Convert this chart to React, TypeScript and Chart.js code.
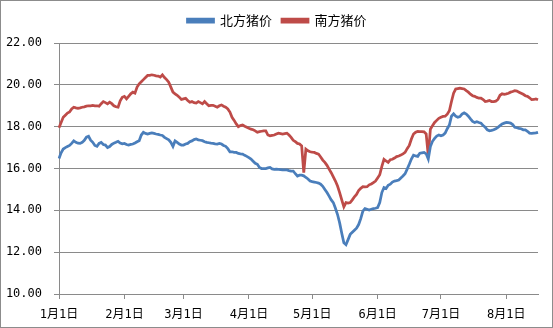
import React, { useEffect, useRef } from "react";
import { Chart, registerables } from "chart.js";

Chart.register(...registerables);

// Days shown per month (Jan 1 .. Aug 16)
const MONTH_NAMES = ["1月", "2月", "3月", "4月", "5月", "6月", "7月", "8月"];
const MONTH_DAYS = [31, 28, 31, 30, 31, 30, 31, 16];
const MONTH_TICKS = ["1月1日", "2月1日", "3月1日", "4月1日", "5月1日", "6月1日", "7月1日", "8月1日"];
const Y_TICKS = [10, 12, 14, 16, 18, 20, 22];

const SERIES_NAMES = ["北方猪价", "南方猪价"];

const NORTH = [
  16.48, 16.75, 16.93, 17.0, 17.05, 17.1, 17.2, 17.32, 17.25, 17.21,
  17.2, 17.25, 17.35, 17.5, 17.54, 17.35, 17.25, 17.1, 17.06, 17.2,
  17.25, 17.15, 17.12, 17.0, 17.05, 17.15, 17.21, 17.25, 17.3, 17.22,
  17.18, 17.2, 17.15, 17.12, 17.15, 17.17, 17.22, 17.28, 17.33, 17.6,
  17.73, 17.68, 17.65, 17.68, 17.7, 17.68, 17.65, 17.63, 17.6, 17.58,
  17.49, 17.43, 17.37, 17.25, 17.06, 17.32, 17.25, 17.17, 17.12, 17.12,
  17.17, 17.2, 17.28, 17.32, 17.38, 17.41, 17.37, 17.35, 17.33, 17.28,
  17.25, 17.23, 17.21, 17.2, 17.18, 17.17, 17.2, 17.17, 17.1, 17.06,
  16.95, 16.8, 16.8, 16.77, 16.77, 16.72, 16.7, 16.69, 16.63, 16.58,
  16.52, 16.45, 16.35, 16.25, 16.2, 16.05, 16.0, 16.0, 16.0, 16.03,
  16.05, 15.98, 15.96, 15.97, 15.96, 15.95, 15.93, 15.93, 15.93, 15.9,
  15.88, 15.88, 15.75, 15.64, 15.68, 15.68, 15.65, 15.57, 15.5, 15.4,
  15.37, 15.35, 15.33, 15.3, 15.25, 15.15, 15.0, 14.85, 14.68, 14.5,
  14.37, 14.1, 13.8, 13.4, 12.9, 12.45, 12.36, 12.6, 12.85, 12.95,
  13.05, 13.15, 13.32, 13.6, 13.96, 14.08, 14.05, 14.01, 14.05, 14.08,
  14.1, 14.13, 14.37, 14.85, 15.09, 15.04, 15.2, 15.25, 15.35, 15.4,
  15.42, 15.45, 15.55, 15.64, 15.75, 15.97, 16.2, 16.45, 16.64, 16.6,
  16.58, 16.73, 16.75, 16.77, 16.7, 16.45, 17.05, 17.3, 17.44, 17.55,
  17.6, 17.56, 17.6, 17.69, 17.9, 18.08, 18.5, 18.61, 18.5, 18.45,
  18.48, 18.6, 18.66, 18.6, 18.5, 18.37, 18.25, 18.2, 18.24, 18.2,
  18.17, 18.05, 17.97, 17.85, 17.8, 17.82, 17.85, 17.9, 17.97, 18.05,
  18.13, 18.17, 18.2, 18.19, 18.17, 18.1, 17.97, 17.95, 17.92, 17.9,
  17.85, 17.85, 17.78, 17.69, 17.68, 17.69, 17.7, 17.73,
];

const SOUTH = [
  17.95, 18.2, 18.45, 18.55, 18.65, 18.7, 18.85, 18.93, 18.9, 18.88,
  18.9, 18.93, 18.95, 18.98, 19.0, 19.0, 19.02, 19.0, 19.0, 18.98,
  19.1, 19.2, 19.15, 19.09, 19.17, 19.1, 19.0, 18.95, 18.93, 19.24,
  19.4, 19.45, 19.33, 19.45, 19.57, 19.65, 19.6, 19.89, 20.05, 20.15,
  20.25, 20.35, 20.45, 20.45, 20.48, 20.46, 20.43, 20.42, 20.37, 20.48,
  20.35, 20.25, 20.13, 19.89, 19.65, 19.57, 19.5, 19.41, 19.3, 19.33,
  19.36, 19.25, 19.17, 19.2, 19.15, 19.13, 19.2, 19.15, 19.09, 19.2,
  19.1, 19.0, 19.02, 19.02, 18.98, 18.93, 19.0, 19.04, 18.98, 18.93,
  18.85, 18.7, 18.45, 18.3, 18.13, 18.0, 18.05, 18.08, 18.02, 17.97,
  17.92, 17.88, 17.85, 17.8, 17.73, 17.76, 17.78, 17.8, 17.8, 17.6,
  17.56, 17.58, 17.6, 17.65, 17.69, 17.67, 17.65, 17.67, 17.69, 17.6,
  17.49, 17.35, 17.28, 17.2, 17.17, 17.08, 15.8, 16.93, 16.85, 16.8,
  16.78, 16.77, 16.72, 16.69, 16.55, 16.4, 16.29, 16.15, 15.97, 15.8,
  15.6, 15.4, 15.16, 14.85, 14.5, 14.17, 14.37, 14.35, 14.37, 14.5,
  14.65, 14.76, 14.95, 15.05, 15.13, 15.12, 15.13, 15.22, 15.26, 15.33,
  15.4, 15.55, 15.7, 16.1, 16.44, 16.36, 16.29, 16.42, 16.44, 16.5,
  16.57, 16.6, 16.64, 16.7, 16.77, 16.95, 17.1, 17.41, 17.65, 17.73,
  17.77, 17.76, 17.76, 17.75, 17.65, 16.6, 17.88, 18.05, 18.2, 18.3,
  18.4, 18.45, 18.49, 18.5, 18.6, 18.76, 19.2, 19.6, 19.8, 19.82,
  19.84, 19.82, 19.8, 19.72, 19.65, 19.55, 19.48, 19.45, 19.4, 19.36,
  19.36, 19.3, 19.2, 19.22, 19.25, 19.2, 19.2, 19.22, 19.3, 19.5,
  19.57, 19.55, 19.57, 19.6, 19.65, 19.68, 19.72, 19.7, 19.65, 19.6,
  19.55, 19.48, 19.45, 19.38, 19.29, 19.3, 19.33, 19.29,
];

const LABELS: string[] = [];
MONTH_NAMES.forEach((m, i) => {
  for (let d = 1; d <= MONTH_DAYS[i]; d++) LABELS.push(`${m}${d}日`);
});

const BLUE = "#4a7ebb";
const RED = "#be4b48";
const GRID = "#8a8a8a";
const TICK_FONT = { family: "'DejaVu Sans Mono', 'Noto Sans CJK SC', monospace", size: 12 };

// Nudges the legend so it is centred like the original (Excel) legend.
const legendShift = {
  id: "legendShift",
  afterLayout(chart: any) {
    if (chart.legend) {
      chart.legend.left += 16;
    }
  },
};

export default function App() {
  const canvasRef = useRef<HTMLCanvasElement>(null);

  useEffect(() => {
    document.body.style.margin = "0";
    const ctx = canvasRef.current!;
    const chart = new Chart(ctx, {
      type: "line",
      data: {
        labels: LABELS,
        datasets: [
          {
            label: SERIES_NAMES[0],
            data: NORTH,
            borderColor: BLUE,
            backgroundColor: BLUE,
            borderWidth: 2.75,
            pointRadius: 0,
            tension: 0,
          },
          {
            label: SERIES_NAMES[1],
            data: SOUTH,
            borderColor: RED,
            backgroundColor: RED,
            borderWidth: 2.75,
            pointRadius: 0,
            tension: 0,
          },
        ],
      },
      plugins: [legendShift],
      options: {
        animation: false,
        responsive: true,
        maintainAspectRatio: false,
        layout: { padding: { left: 0, right: 15, top: 4, bottom: 0 } },
        plugins: {
          tooltip: { enabled: false },
          legend: {
            position: "top",
            labels: {
              boxWidth: 26,
              boxHeight: 3,
              padding: 10,
              color: "#000",
              font: { family: "'Noto Sans CJK SC', sans-serif", size: 13 },
            },
          },
          title: {
            display: true,
            text: "",
            position: "top",
            weight: 500,
            font: { size: 4, lineHeight: 1 },
            padding: 1,
          },
        },
        scales: {
          x: {
            type: "category",
            offset: false,
            border: { display: true, color: GRID, width: 1 },
            grid: {
              drawOnChartArea: false,
              drawTicks: true,
              tickLength: 5,
              color: (c: any) =>
                MONTH_TICKS.includes(LABELS[c.index]) ? GRID : "rgba(0,0,0,0)",
            },
            ticks: {
              autoSkip: false,
              maxRotation: 0,
              minRotation: 0,
              padding: 9,
              color: "#000",
              font: TICK_FONT,
              callback: (v: any, i: number) =>
                MONTH_TICKS.includes(LABELS[i]) ? LABELS[i] : "",
            },
            afterFit: (s: any) => {
              s.height = 34;
            },
          },
          y: {
            min: Y_TICKS[0],
            max: Y_TICKS[Y_TICKS.length - 1],
            border: { display: true, color: GRID, width: 1 },
            grid: { color: GRID, lineWidth: 1, tickLength: 5 },
            ticks: {
              stepSize: 2,
              padding: 12,
              color: "#000",
              font: TICK_FONT,
              callback: (v: any) => Number(v).toFixed(2),
            },
            afterFit: (s: any) => {
              s.width = 59;
            },
          },
        },
      },
    });
    return () => chart.destroy();
  }, []);

  return (
    <div style={{ position: "fixed", left: 0, top: 0, width: 553, height: 328, background: "#fff" }}>
      <div style={{ position: "absolute", left: 0, top: 0, width: 553, height: 328 }}>
        <canvas ref={canvasRef} />
      </div>
      <div
        style={{
          position: "absolute",
          left: 0,
          top: 0,
          width: 553,
          height: 328,
          boxSizing: "border-box",
          border: "1px solid #8c8c8c",
          pointerEvents: "none",
        }}
      />
    </div>
  );
}
